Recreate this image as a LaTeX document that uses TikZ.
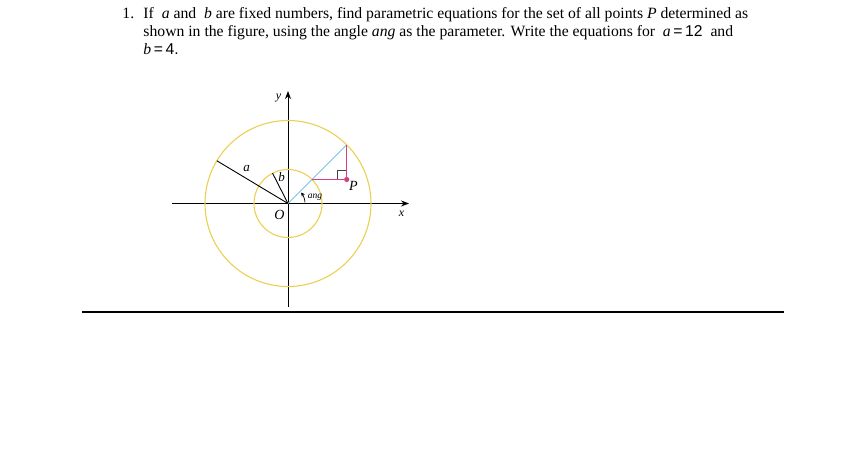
\documentclass[tikz,border=0pt]{standalone}
\usepackage{fontspec}
\setmainfont{Liberation Serif}
\newfontfamily\numfont{Liberation Sans}
\usetikzlibrary{arrows.meta}
\definecolor{ringyellow}{RGB}{236,208,80}
\definecolor{rayblue}{RGB}{128,192,232}
\definecolor{legpink}{RGB}{214,62,132}
\begin{document}
\begin{tikzpicture}[x=1pt,y=-1pt,>={Stealth[length=8pt,width=6pt]},line width=0.9pt,font=\fontsize{15.7}{17.5}\selectfont]
	\useasboundingbox (0,0) rectangle (854,455);
	% question text
	\node[anchor=base west,inner sep=0] (num) at (122,19) {1.};
	\node[anchor=base west,inner sep=0] (line1) at (143,19) {If\ \ \textit{a} and\ \ \textit{b} are fixed numbers, find parametric equations for the set of all points \textit{P} determined as};
	\node[anchor=base west,inner sep=0] (line2) at (143,36.5) {shown in the figure, using the angle \textit{ang} as the parameter. Write the equations for\ \ \textit{a}\,{\numfont=\,12}\ \ and};
	\node[anchor=base west,inner sep=0] (line3) at (143,54.5) {\textit{b}\,{\numfont=\,4.}};
	% axes
	\coordinate (O) at (288,203.5);
	\coordinate (xl) at (172,203.5);
	\coordinate (xr) at (409,203.5);
	\coordinate (yb) at (288,307);
	\coordinate (yt) at (288,91);
	\draw[->] (xl)--(xr);
	\draw[->] (yb)--(yt);
	% circles
	\draw[ringyellow,line width=1.1pt] (O) circle[radius=83];
	\draw[ringyellow,line width=1.1pt] (O) circle[radius=34];
	% radii
	\draw (O)--++(-149:83) coordinate (A);
	\draw (O)--++(-117:34) coordinate (B);
	% ray and legs
	\draw[rayblue] (O)--++(-45:83) coordinate (Q);
	\path (O)--++(-45:34) coordinate (S);
	\coordinate (P) at (Q |- S);
	\draw[black!75,line width=0.8pt] ([xshift=-9pt]P)--++(0,-9)--++(9,0);
	\draw[legpink,line width=1.4pt] (S)-|(Q);
	\fill[legpink] (P) circle[radius=2.6];
	% angle
	\draw[->,>={Stealth[length=4pt,width=4pt]},line width=0.7pt] (O)++(-4:17) arc[start angle=-4,end angle=-40,radius=17];
	% labels
	\node[font=\fontsize{13}{14}\selectfont\itshape] (alab) at (246.7,169) {a};
	\node[font=\fontsize{13}{14}\selectfont\itshape] (blab) at (281.7,177.5) {b};
	\node[font=\fontsize{9.5}{10}\selectfont\itshape] (anglab) at (315,197) {ang};
	\node[font=\fontsize{14}{15}\selectfont\itshape] (plab) at (353.5,186) {P};
	\node[font=\fontsize{14}{15}\selectfont\itshape] (olab) at (279.5,215) {O};
	\node[font=\fontsize{12}{13}\selectfont\itshape] (xlab) at (401.5,214) {x};
	\node[font=\fontsize{12}{13}\selectfont\itshape] (ylab) at (278.5,98) {y};
	% rule
	\coordinate (rl) at (82,312);
	\coordinate (rr) at (784,312);
	\draw[line width=1.3pt] (rl)--(rr);
\end{tikzpicture}
\end{document}
